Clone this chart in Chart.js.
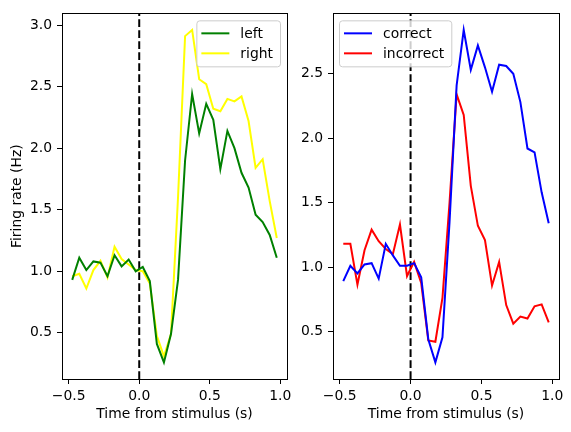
<!DOCTYPE html>
<html>
<head>
<meta charset="utf-8">
<script src="https://cdn.jsdelivr.net/npm/chart.js@4.4.0/dist/chart.umd.min.js"></script>
<style>
  html, body { margin: 0; padding: 0; background: #fff; }
  #wrap { position: relative; width: 571px; height: 432px; }
  canvas { position: absolute; top: 0; }
  #c1 { left: 0; }
  #c2 { left: 300px; }
</style>
</head>
<body>
<div id="wrap">
  <canvas id="c1" width="300" height="432"></canvas>
  <canvas id="c2" width="271" height="432"></canvas>
</div>
<script>
// Time bins (s)
const time = [-0.475, -0.425, -0.375, -0.325, -0.275, -0.225, -0.175, -0.125, -0.075, -0.025,
              0.025, 0.075, 0.125, 0.175, 0.225, 0.275, 0.325, 0.375, 0.425, 0.475,
              0.525, 0.575, 0.625, 0.675, 0.725, 0.775, 0.825, 0.875, 0.925, 0.975];

// Left panel: stimulus side
const leftRate  = [0.93, 1.11, 1.01, 1.08, 1.07, 0.96, 1.13, 1.04, 1.095, 1.00,
                   1.035, 0.92, 0.41, 0.26, 0.49, 0.93, 1.90, 2.44, 2.12, 2.36,
                   2.23, 1.83, 2.14, 2.00, 1.80, 1.68, 1.46, 1.40, 1.295, 1.11];
const rightRate = [0.96, 0.98, 0.86, 1.01, 1.085, 0.95, 1.20, 1.10, 1.055, 1.01,
                   1.00, 0.90, 0.475, 0.31, 0.49, 1.60, 2.91, 2.96, 2.56, 2.52,
                   2.32, 2.30, 2.40, 2.38, 2.42, 2.22, 1.84, 1.91, 1.57, 1.27];

// Right panel: choice outcome
const correctRate   = [0.89, 1.01, 0.95, 1.02, 1.03, 0.91, 1.18, 1.09, 1.01, 1.01,
                       1.03, 0.92, 0.44, 0.26, 0.455, 1.35, 2.41, 2.84, 2.53, 2.72,
                       2.55, 2.36, 2.57, 2.56, 2.50, 2.28, 1.92, 1.89, 1.58, 1.34];
const incorrectRate = [1.18, 1.18, 0.864, 1.13, 1.29, 1.20, 1.14, 1.10, 1.33, 0.93,
                       1.04, 0.876, 0.43, 0.42, 0.76, 1.50, 2.34, 2.18, 1.63, 1.32,
                       1.21, 0.856, 1.04, 0.705, 0.56, 0.615, 0.60, 0.695, 0.71, 0.57];

// Tick labels
const xTicks = [-0.5, 0.0, 0.5, 1.0];
const leftYTicks = [0.5, 1.0, 1.5, 2.0, 2.5, 3.0];
const rightYTicks = [0.5, 1.0, 1.5, 2.0, 2.5];

Chart.defaults.font.family = 'DejaVu Sans';
Chart.defaults.font.size = 13.9;
Chart.defaults.color = '#000';

const fmt = v => v.toFixed(1).replace('-', '\u2212');
const toPoints = ys => ys.map((y, i) => ({ x: time[i], y: y }));

// frame round the plot area + matplotlib-like legend box
const framePlugin = {
  id: 'frame',
  afterDraw(chart, args, opts) {
    const { ctx, chartArea: a } = chart;
    ctx.save();

    // legend
    const items = chart.data.datasets.filter(d => !d.isMarker);
    ctx.font = '13.9px "DejaVu Sans"';
    const textW = Math.max(...items.map(d => ctx.measureText(d.label).width));
    const boxW = 44 + textW + 7;
    const boxH = 46;
    const bx = opts.side === 'right' ? a.right - 7 - boxW : a.left + 6;
    const by = a.top + 7;
    ctx.beginPath();
    ctx.roundRect(bx + 0.5, by + 0.5, boxW, boxH, 3);
    ctx.fillStyle = 'rgba(255,255,255,0.8)';
    ctx.fill();
    ctx.strokeStyle = '#cccccc';
    ctx.lineWidth = 1;
    ctx.stroke();
    items.forEach((d, i) => {
      const cy = by + 13 + i * 20;
      ctx.beginPath();
      ctx.moveTo(bx + 5, cy);
      ctx.lineTo(bx + 33, cy);
      ctx.strokeStyle = d.borderColor;
      ctx.lineWidth = 2;
      ctx.stroke();
      ctx.fillStyle = '#000';
      ctx.textBaseline = 'middle';
      ctx.fillText(d.label, bx + 44, cy + 1);
    });

    // axes frame
    ctx.strokeStyle = '#000';
    ctx.lineWidth = 1;
    ctx.strokeRect(Math.round(a.left) + 0.5, Math.round(a.top) + 0.5,
                   Math.round(a.right - a.left), Math.round(a.bottom - a.top));
    ctx.restore();
  }
};

function makeChart(canvasId, cfg) {
  const datasets = cfg.series.map(s => ({
    label: s.label,
    data: toPoints(s.values),
    borderColor: s.color,
    borderWidth: 2,
    pointRadius: 0,
    tension: 0,
    fill: false
  }));
  // dashed stimulus-onset line
  datasets.push({
    label: 'onset',
    isMarker: true,
    data: [{ x: 0, y: cfg.yMin }, { x: 0, y: cfg.yMax }],
    borderColor: '#000',
    borderWidth: 2,
    borderDash: [7.7, 3.3],
    pointRadius: 0
  });

  return new Chart(document.getElementById(canvasId), {
    type: 'line',
    data: { datasets: datasets },
    options: {
      responsive: false,
      animation: false,
      layout: { padding: { top: 9, right: cfg.padRight, left: 0, bottom: 0 } },
      plugins: {
        legend: { display: false },
        tooltip: { enabled: false },
        frame: { side: cfg.legendSide }
      },
      scales: {
        x: {
          type: 'linear',
          min: -0.5475,
          max: 1.0475,
          afterBuildTicks: s => { s.ticks = xTicks.map(v => ({ value: v })); },
          afterFit: s => { s.height = 53; },
          grid: { drawOnChartArea: false, drawTicks: true, tickLength: 5, color: '#000', lineWidth: 1 },
          border: { display: false },
          ticks: { callback: v => fmt(v), padding: 4, maxRotation: 0, autoSkip: false },
          title: { display: true, text: 'Time from stimulus (s)', padding: { top: 0, bottom: 9.6 } }
        },
        y: {
          type: 'linear',
          min: cfg.yMin,
          max: cfg.yMax,
          afterBuildTicks: s => { s.ticks = cfg.yTicks.map(v => ({ value: v })); },
          afterFit: s => { s.width = cfg.yWidth; },
          grid: { drawOnChartArea: false, drawTicks: true, tickLength: 5, color: '#000', lineWidth: 1 },
          border: { display: false },
          ticks: { callback: v => fmt(v), padding: 5, autoSkip: false },
          title: { display: cfg.yTitle, text: 'Firing rate (Hz)', padding: { top: 8.7, bottom: 0 } }
        }
      }
    },
    plugins: [framePlugin]
  });
}

makeChart('c1', {
  series: [
    { label: 'left', values: leftRate, color: '#008000' },
    { label: 'right', values: rightRate, color: '#ffff00' }
  ],
  yMin: 0.125, yMax: 3.095, yTicks: leftYTicks,
  yWidth: 62, padRight: 13, yTitle: true, legendSide: 'right'
});

makeChart('c2', {
  series: [
    { label: 'correct', values: correctRate, color: '#0000ff' },
    { label: 'incorrect', values: incorrectRate, color: '#ff0000' }
  ],
  yMin: 0.131, yMax: 2.969, yTicks: rightYTicks,
  yWidth: 33, padRight: 12, yTitle: false, legendSide: 'left'
});
</script>
</body>
</html>
